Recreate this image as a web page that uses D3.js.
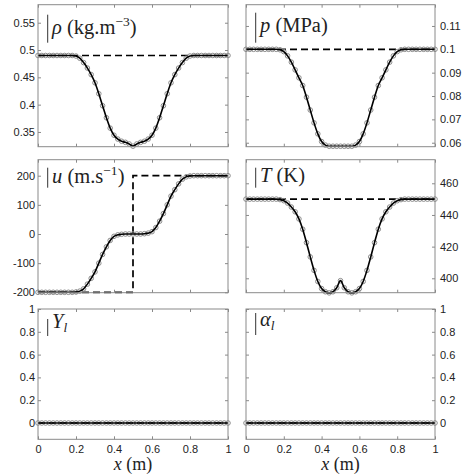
<!DOCTYPE html>
<html>
<head>
<meta charset="utf-8">
<script src="https://cdn.jsdelivr.net/npm/d3@7"></script>
<style>
  body { margin: 0; background: #fff; }
</style>
</head>
<body>
<div id="chart"></div>
<script>
// sample positions (m)
const xGrid = [0, 0.02, 0.04, 0.06, 0.08, 0.1, 0.12, 0.14, 0.16, 0.18,
  0.2, 0.22, 0.24, 0.26, 0.28, 0.3, 0.32, 0.34, 0.36, 0.38,
  0.4, 0.42, 0.44, 0.46, 0.48, 0.5, 0.52, 0.54, 0.56, 0.58,
  0.6, 0.62, 0.64, 0.66, 0.68, 0.7, 0.72, 0.74, 0.76, 0.78,
  0.8, 0.82, 0.84, 0.86, 0.88, 0.9, 0.92, 0.94, 0.96, 0.98, 1];

// computed solution
const rho = [0.49, 0.49, 0.49, 0.49, 0.49, 0.49, 0.49, 0.49, 0.49, 0.49,
  0.489, 0.485, 0.477, 0.467, 0.455, 0.440, 0.420, 0.398, 0.376, 0.357,
  0.344, 0.337, 0.333, 0.331, 0.328, 0.324, 0.328, 0.331, 0.333, 0.337,
  0.344, 0.357, 0.376, 0.398, 0.420, 0.440, 0.455, 0.467, 0.477, 0.485,
  0.489, 0.49, 0.49, 0.49, 0.49, 0.49, 0.49, 0.49, 0.49, 0.49, 0.49];
const pres = [0.1, 0.1, 0.1, 0.1, 0.1, 0.1, 0.1, 0.1, 0.1, 0.0998,
  0.0990, 0.0972, 0.0945, 0.0912, 0.0878, 0.0845, 0.0795, 0.0740, 0.0685, 0.0638,
  0.0605, 0.0590, 0.0585, 0.0585, 0.0585, 0.0585, 0.0585, 0.0585, 0.0585, 0.0590,
  0.0605, 0.0638, 0.0685, 0.0740, 0.0795, 0.0845, 0.0878, 0.0912, 0.0945, 0.0972,
  0.0990, 0.0998, 0.1, 0.1, 0.1, 0.1, 0.1, 0.1, 0.1, 0.1, 0.1];
const vel = [-200, -200, -200, -200, -200, -200, -200, -200, -200, -200,
  -199, -196, -188, -172, -152, -130, -100, -70, -44, -22,
  -8, -3, -1, 0, 0, 0, 0, 0, 1, 3,
  8, 22, 44, 70, 100, 130, 152, 172, 188, 196,
  199, 200, 200, 200, 200, 200, 200, 200, 200, 200, 200];
const temp = [450, 450, 450, 450, 450, 450, 450, 450, 450, 449.7,
  449, 447.5, 445, 442, 437.5, 431, 422.5, 413.5, 405, 398,
  393.5, 391.5, 390.8, 391.5, 394, 398.5, 394, 391.5, 390.8, 391.5,
  393.5, 398, 405, 413.5, 422.5, 431, 437.5, 442, 445, 447.5,
  449, 449.7, 450, 450, 450, 450, 450, 450, 450, 450, 450];
const yl = [0, 0, 0, 0, 0, 0, 0, 0, 0, 0, 0, 0, 0, 0, 0, 0, 0, 0, 0, 0,
  0, 0, 0, 0, 0, 0, 0, 0, 0, 0, 0, 0, 0, 0, 0, 0, 0, 0, 0, 0,
  0, 0, 0, 0, 0, 0, 0, 0, 0, 0, 0];
const alphal = [0, 0, 0, 0, 0, 0, 0, 0, 0, 0, 0, 0, 0, 0, 0, 0, 0, 0, 0, 0,
  0, 0, 0, 0, 0, 0, 0, 0, 0, 0, 0, 0, 0, 0, 0, 0, 0, 0, 0, 0,
  0, 0, 0, 0, 0, 0, 0, 0, 0, 0, 0];

// initial state (dashed)
const initX = [0, 1];
const initStepX = [0, 0.5, 0.5, 1];
const rho0 = [0.49, 0.49];
const p0 = [0.1, 0.1];
const u0 = [-200, -200, 200, 200];
const T0 = [450, 450];
const zero0 = [0, 0];

// tick labels
const xTicks = [0, 0.2, 0.4, 0.6, 0.8, 1];
const rhoTicks = [0.35, 0.4, 0.45, 0.5, 0.55];
const pTicks = [0.06, 0.07, 0.08, 0.09, 0.1, 0.11];
const uTicks = [-200, -100, 0, 100, 200];
const TTicks = [400, 420, 440, 460];
const fracTicks = [0, 0.2, 0.4, 0.6, 0.8, 1];

const W = 474, H = 474;
const svg = d3.select("#chart").append("svg")
  .attr("width", W).attr("height", H);

const cols = [[38, 228], [246, 435]];
const rows = [[4.7, 146.7], [159.7, 292.7], [309, 439.3]];
const boxColor = "#8a8a8a";
const textColor = "#222";
const sans = "'Liberation Sans', Arial, Helvetica, sans-serif";
const serif = "'Liberation Serif', 'Times New Roman', serif";

const panels = [
  { vals: rho, ix: initX, iy: rho0, dom: [0.323, 0.583], ticks: rhoTicks, c: 0, r: 0,
    label: [{t: "ρ", i: true}, {t: " (kg.m"}, {t: "−3", sup: true}, {t: ")"}], lb: 29, bar: [10, 38] },
  { vals: pres, ix: initX, iy: p0, dom: [0.0583, 0.1191], ticks: pTicks, c: 1, r: 0,
    label: [{t: "p", i: true}, {t: " (MPa)"}], lb: 27, bar: [8, 38] },
  { vals: vel, ix: initStepX, iy: u0, dom: [-201.4, 254.9], ticks: uTicks, c: 0, r: 1,
    label: [{t: "u", i: true}, {t: " (m.s"}, {t: "−1", sup: true}, {t: ")"}], lb: 23, bar: [8, 28] },
  { vals: temp, ix: initX, iy: T0, dom: [390.9, 474.9], ticks: TTicks, c: 1, r: 1,
    label: [{t: "T", i: true}, {t: " (K)"}], lb: 22, bar: [8, 28] },
  { vals: yl, ix: initX, iy: zero0, dom: [-0.143, 1], ticks: fracTicks, c: 0, r: 2,
    label: [{t: "Y", i: true}, {t: "l", i: true, sub: true}], lb: 19, bar: [10, 27], xlab: true },
  { vals: alphal, ix: initX, iy: zero0, dom: [-0.143, 1], ticks: fracTicks, c: 1, r: 2,
    label: [{t: "α", i: true}, {t: "l", i: true, sub: true}], lb: 17, bar: [4, 26], xlab: true }
];

panels.forEach(p => {
  const [x0, x1] = cols[p.c];
  const [y0, y1] = rows[p.r];
  const x = d3.scaleLinear().domain([0, 1]).range([x0, x1]);
  const y = d3.scaleLinear().domain(p.dom).range([y1, y0]);
  const g = svg.append("g");

  // inner ticks on all four sides
  const tk = 3;
  const leftSide = p.c === 0;
  const yLab = leftSide ? d3.axisLeft(y) : d3.axisRight(y);
  g.append("g").attr("transform", `translate(${leftSide ? x0 : x1},0)`)
    .call(yLab.tickValues(p.ticks).tickSize(-tk).tickPadding(leftSide ? 3 : 5).tickFormat(d => String(d)));
  g.append("g").attr("transform", `translate(${leftSide ? x1 : x0},0)`)
    .call((leftSide ? d3.axisRight(y) : d3.axisLeft(y)).tickValues(p.ticks).tickSize(-tk).tickFormat(""));
  g.append("g").attr("transform", `translate(0,${y1})`)
    .call(d3.axisBottom(x).tickValues(xTicks).tickSize(-tk).tickPadding(6)
      .tickFormat(p.xlab ? (d => String(d)) : ""));
  g.append("g").attr("transform", `translate(0,${y0})`)
    .call(d3.axisTop(x).tickValues(xTicks).tickSize(-tk).tickFormat(""));
  g.selectAll(".domain").remove();
  g.selectAll(".tick line").attr("stroke", boxColor);
  g.selectAll("g").attr("font-family", sans).attr("font-size", 11);
  g.selectAll(".tick text").attr("fill", textColor);

  // initial condition (dashed)
  const pts0 = p.ix.map((d, i) => [d, p.iy[i]]);
  g.append("path").datum(pts0)
    .attr("fill", "none").attr("stroke", "#000").attr("stroke-width", 1.7)
    .attr("stroke-dasharray", "7,4")
    .attr("d", d3.line().x(d => x(d[0])).y(d => y(d[1])));

  // markers
  const pts = xGrid.map((d, i) => [d, p.vals[i]]);
  g.selectAll("circle").data(pts).enter().append("circle")
    .attr("cx", d => x(d[0])).attr("cy", d => y(d[1])).attr("r", 2.3)
    .attr("fill", "none").attr("stroke", "#8c8c8c").attr("stroke-width", 1);

  // solution line
  g.append("path").datum(pts)
    .attr("fill", "none").attr("stroke", "#000").attr("stroke-width", 1.6)
    .attr("d", d3.line().curve(d3.curveMonotoneX).x(d => x(d[0])).y(d => y(d[1])));

  // box
  g.append("rect").attr("x", x0).attr("y", y0).attr("width", x1 - x0).attr("height", y1 - y0)
    .attr("fill", "none").attr("stroke", boxColor).attr("stroke-width", 1);

  // panel label with left bar
  g.append("line").attr("x1", x0 + 9.7).attr("x2", x0 + 9.7)
    .attr("y1", y0 + p.bar[0]).attr("y2", y0 + p.bar[1])
    .attr("stroke", "#333").attr("stroke-width", 1);
  const txt = g.append("text").attr("x", x0 + 14).attr("y", y0 + p.lb)
    .attr("font-family", serif).attr("font-size", 20.5).attr("fill", textColor);
  let shift = 0;
  p.label.forEach(part => {
    let dy = 0;
    if (part.sup) dy = -8 - shift;
    else if (part.sub) dy = 4 - shift;
    else dy = -shift;
    shift += dy;
    txt.append("tspan").attr("dy", dy)
      .attr("font-size", part.sup || part.sub ? 13.5 : 20.5)
      .attr("font-style", part.i ? "italic" : "normal")
      .text(part.t);
  });

  // x axis title
  if (p.xlab) {
    const xt = g.append("text").attr("x", (x0 + x1) / 2).attr("y", 470)
      .attr("text-anchor", "middle").attr("font-family", serif).attr("font-size", 18)
      .attr("fill", textColor);
    xt.append("tspan").attr("font-style", "italic").text("x");
    xt.append("tspan").text(" (m)");
  }
});
</script>
</body>
</html>
